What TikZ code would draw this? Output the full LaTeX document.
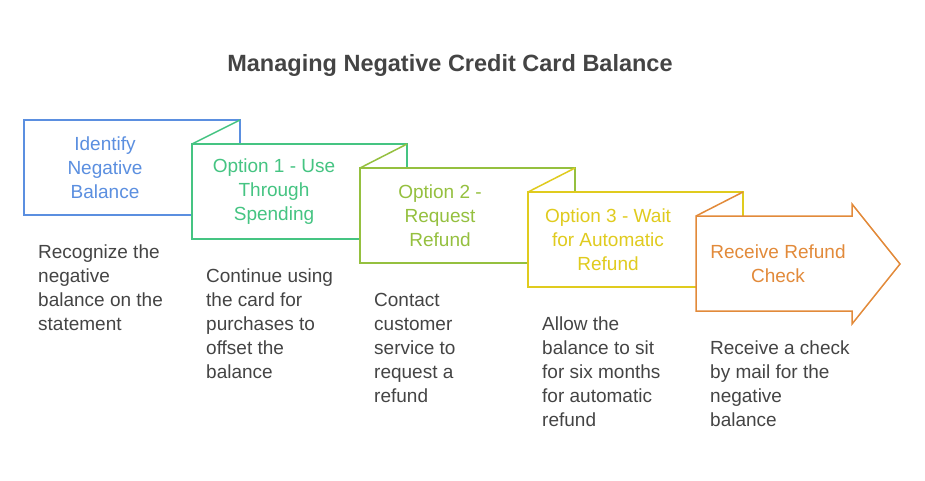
\documentclass[tikz,border=0pt]{standalone}
\usepackage{fontspec}
\setmainfont{Liberation Sans}
\definecolor{c1}{HTML}{5B8FE0}
\definecolor{c2}{HTML}{45C482}
\definecolor{c3}{HTML}{95C03F}
\definecolor{c4}{HTML}{E0CB1E}
\definecolor{c5}{HTML}{E28A3A}
\definecolor{tx}{HTML}{444444}
\begin{document}
\begin{tikzpicture}[x=1pt,y=-1pt,
  box/.style={draw=#1,fill=white,line width=1.5pt,line join=miter},
  lab/.style={text=#1,font=\fontsize{19}{24}\selectfont,align=center},
  desc/.style={text=tx,font=\fontsize{19}{24}\selectfont,align=flush left,anchor=north west,inner sep=0pt,text width=150pt}]
\useasboundingbox (0,0) rectangle (925,480);
\node[text=tx,font=\bfseries\fontsize{23.5}{24}\selectfont] (title) at (450,65) {Managing Negative Credit Card Balance};
% box 1
\draw[box=c1] (24,120) rectangle (240,215);
\node[lab=c1] (b1) at (105,168) {Identify\\Negative\\Balance};
% box 2
\draw[box=c2] (192,144) rectangle (407,239);
\draw[c2,line width=1.5pt] (192,144) -- (240,120);
\node[lab=c2] (b2) at (274,192) {Option 1 - Use\\Through\\Spending};
% box 3
\draw[box=c3] (360,168) rectangle (575,263);
\draw[c3,line width=1.5pt] (360,168) -- (407,144);
\node[lab=c3] (b3) at (440,216) {Option 2 -\\Request\\Refund};
% box 4
\draw[box=c4] (528,192) rectangle (743,287);
\draw[c4,line width=1.5pt] (528,192) -- (575,168);
\node[lab=c4] (b4) at (608,240) {Option 3 - Wait\\for Automatic\\Refund};
% arrow 5
\draw[box=c5] (696,216) -- (852,216) -- (852,204) -- (900,264) -- (852,324) -- (852,311) -- (696,311) -- cycle;
\draw[c5,line width=1.5pt] (696,216) -- (743,192);
\node[lab=c5] (b5) at (778,264) {Receive Refund\\Check};
% descriptions
\node[desc] (d1) at (38,245) {Recognize the\\negative\\balance on the\\statement};
\node[desc] (d2) at (206,269) {Continue using\\the card for\\purchases to\\offset the\\balance};
\node[desc] (d3) at (374,293) {Contact\\customer\\service to\\request a\\refund};
\node[desc] (d4) at (542,317) {Allow the\\balance to sit\\for six months\\for automatic\\refund};
\node[desc] (d5) at (710,341) {Receive a check\\by mail for the\\negative\\balance};
\end{tikzpicture}
\end{document}
